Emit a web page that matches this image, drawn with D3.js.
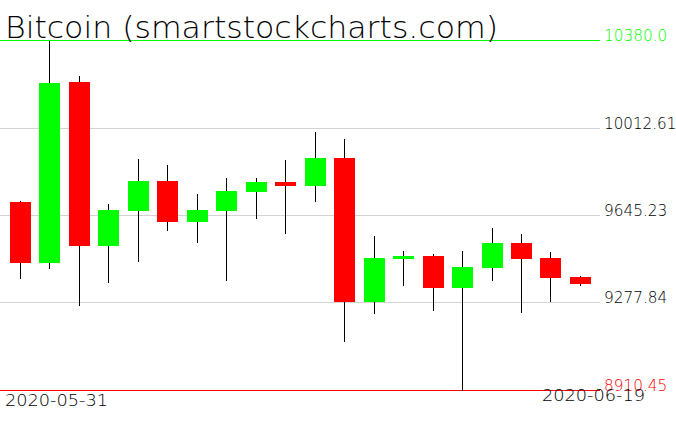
<!DOCTYPE html>
<html>
<head>
<meta charset="utf-8">
<script src="https://cdn.jsdelivr.net/npm/d3@7"></script>
<style>
  body { margin: 0; background: #fff; }
  svg { display: block; }
</style>
</head>
<body>
<svg width="676" height="431"></svg>
<script>
// daily candles
var dates  = ["2020-05-31","2020-06-01","2020-06-02","2020-06-03","2020-06-04",
              "2020-06-05","2020-06-06","2020-06-07","2020-06-08","2020-06-09",
              "2020-06-10","2020-06-11","2020-06-12","2020-06-13","2020-06-14",
              "2020-06-15","2020-06-16","2020-06-17","2020-06-18","2020-06-19"];
var opens  = [9702.0, 9446.1, 10205.3, 9518.8, 9665.6, 9790.0, 9618.1, 9665.6, 9745.3, 9785.8,
              9770.5, 9886.5, 9282.6, 9464.3, 9475.5, 9341.3, 9425.2, 9530.0, 9467.1, 9387.4];
var highs  = [9705.0, 10380.0, 10230.4, 9693.6, 9882.3, 9857.1, 9735.5, 9802.6, 9802.6, 9878.1,
              9995.5, 9966.2, 9559.4, 9496.5, 9483.9, 9496.5, 9592.9, 9567.8, 9492.3, 9391.6];
var lows   = [9380.4, 9422.4, 9267.2, 9363.7, 9451.7, 9580.3, 9531.4, 9372.0, 9632.1, 9569.2,
              9703.4, 9112.0, 9233.6, 9351.1, 9246.2, 8910.45, 9372.0, 9237.8, 9282.6, 9349.7];
var closes = [9446.1, 10201.1, 9518.8, 9668.4, 9790.0, 9618.1, 9668.4, 9748.1, 9785.8, 9770.5,
              9886.5, 9282.6, 9467.1, 9475.5, 9341.3, 9429.4, 9530.0, 9462.9, 9383.2, 9358.1];

var yTicks = [10380.0, 10012.61, 9645.23, 9277.84, 8910.45];
var yTickLabels = ["10380.0", "10012.61", "9645.23", "9277.84", "8910.45"];
var xLabels = ["2020-05-31", "2020-06-19"];
var title = "Bitcoin (smartstockcharts.com)";

var svg = d3.select("svg");
var plotRight = 600;
var thinFont = "DejaVu Sans, sans-serif";

var x = d3.scaleBand()
    .domain(dates)
    .range([5.76, 595.2])
    .paddingInner(0.2875)
    .paddingOuter(0.14375);

var y = d3.scaleLinear()
    .domain([d3.min(yTicks), d3.max(yTicks)])
    .range([390.5, 40.5]);

function lineColor(i) {
    if (i == 0) return "#00ff00";
    if (i == yTicks.length - 1) return "#ff0000";
    return "#d3d3d3";
}
function labelColor(i) {
    if (i == 0) return "#00ff00";
    if (i == yTicks.length - 1) return "#ff0000";
    return "#000";
}

// horizontal grid lines (gray ones first, green/red on top)
var gridOrder = [1, 2, 3, 0, 4];
svg.append("g").selectAll("line")
    .data(gridOrder)
    .enter().append("line")
    .attr("x1", 0).attr("x2", plotRight)
    .attr("y1", function(i) { return Math.floor(y(yTicks[i])) + 0.5; })
    .attr("y2", function(i) { return Math.floor(y(yTicks[i])) + 0.5; })
    .attr("stroke", function(i) { return lineColor(i); })
    .attr("stroke-width", 1)
    .attr("shape-rendering", "crispEdges");

var candles = dates.map(function(d, i) {
    return {date: d, open: opens[i], high: highs[i], low: lows[i], close: closes[i]};
});

var g = svg.append("g");

// wicks
g.selectAll("line.wick")
    .data(candles)
    .enter().append("line")
    .attr("class", "wick")
    .attr("x1", function(d) { return x(d.date) + x.bandwidth() / 2; })
    .attr("x2", function(d) { return x(d.date) + x.bandwidth() / 2; })
    .attr("y1", function(d) { return y(d.high); })
    .attr("y2", function(d) { return y(d.low); })
    .attr("stroke", "#000")
    .attr("stroke-width", 1)
    .attr("shape-rendering", "crispEdges");

// bodies
g.selectAll("rect.body")
    .data(candles)
    .enter().append("rect")
    .attr("class", "body")
    .attr("x", function(d) { return x(d.date); })
    .attr("width", x.bandwidth())
    .attr("y", function(d) { return y(Math.max(d.open, d.close)); })
    .attr("height", function(d) { return Math.max(1, Math.abs(y(d.open) - y(d.close))); })
    .attr("fill", function(d) { return d.close >= d.open ? "#00ff00" : "#ff0000"; })
    .attr("shape-rendering", "crispEdges");

// right side price labels
svg.append("g").selectAll("text")
    .data(yTicks)
    .enter().append("text")
    .attr("x", 604)
    .attr("y", function(v) { return Math.floor(y(v)) + 0.5; })
    .attr("fill", function(v, i) { return labelColor(i); })
    .attr("font-family", thinFont)
    .attr("font-weight", 200)
    .attr("font-size", 16)
    .attr("textLength", function(v, i) { return yTickLabels[i].length * 9.05; })
    .attr("lengthAdjust", "spacingAndGlyphs")
    .text(function(v, i) { return yTickLabels[i]; });

// first and last dates
svg.append("text")
    .attr("x", 5).attr("y", 406)
    .attr("font-family", thinFont)
    .attr("font-weight", 200)
    .attr("font-size", 16)
    .attr("textLength", 103)
    .attr("lengthAdjust", "spacingAndGlyphs")
    .text(xLabels[0]);

svg.append("text")
    .attr("x", 645).attr("y", 401)
    .attr("text-anchor", "end")
    .attr("font-family", thinFont)
    .attr("font-weight", 200)
    .attr("font-size", 16)
    .attr("textLength", 103)
    .attr("lengthAdjust", "spacingAndGlyphs")
    .text(xLabels[1]);

// title
svg.append("text")
    .attr("x", 5).attr("y", 38)
    .attr("font-family", thinFont)
    .attr("font-weight", 200)
    .attr("font-size", 31)
    .attr("textLength", 493)
    .attr("lengthAdjust", "spacingAndGlyphs")
    .text(title);
</script>
</body>
</html>
